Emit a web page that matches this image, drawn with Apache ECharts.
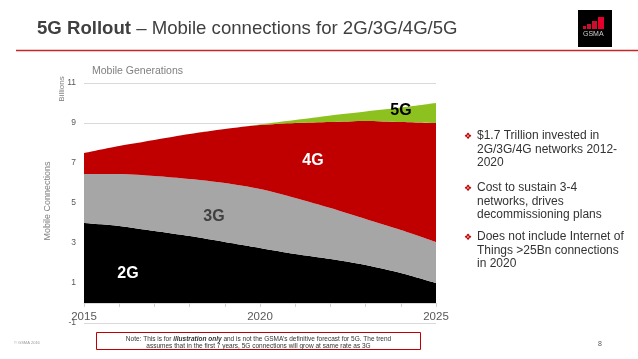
<!DOCTYPE html>
<html>
<head>
<meta charset="utf-8">
<script src="https://cdn.jsdelivr.net/npm/echarts@6/dist/echarts.min.js"></script>
<style>
html,body{margin:0;padding:0;background:#fff;}
#chart{width:638px;height:359px;}
</style>
</head>
<body>
<div id="chart"></div>
<script>
var years = ['2015','2016','2017','2018','2019','2020','2021','2022','2023','2024','2025'];
var g2 = [4.0, 3.85, 3.6, 3.35, 3.05, 2.75, 2.45, 2.2, 1.9, 1.5, 1.0];
var g3 = [2.45, 2.6, 2.75, 2.85, 2.95, 2.95, 2.8, 2.55, 2.3, 2.15, 2.05];
var g4 = [1.05, 1.4, 1.8, 2.25, 2.7, 3.2, 3.75, 4.3, 4.9, 5.4, 5.95];
var g5 = [0, 0, 0, 0, 0, 0.03, 0.15, 0.33, 0.48, 0.72, 1.0];
var yTicks = {min: -1, max: 11, interval: 2};
var xLabelYears = ['2015', '2020', '2025'];

var FONT = '"Liberation Sans", Arial, sans-serif';
var chart = echarts.init(document.getElementById('chart'), null, {renderer: 'canvas'});

function areaSeries(name, data, color) {
  return {
    name: name, type: 'line', stack: 'total', data: data,
    symbol: 'none', smooth: 0.25,
    lineStyle: {width: 0, color: color},
    areaStyle: {color: color, opacity: 1},
    itemStyle: {color: color},
    silent: true
  };
}

var bullets = [
  {y: 137, lines: ['$1.7 Trillion invested in', '2G/3G/4G networks 2012-', '2020']},
  {y: 189, lines: ['Cost to sustain 3-4', 'networks, drives', 'decommissioning plans']},
  {y: 238, lines: ['Does not include Internet of', 'Things >25Bn connections', 'in 2020']}
];
var graphics = [
  {type: 'text', left: 37, top: 19, style: {
    text: '{b|5G Rollout}{n| – Mobile connections for 2G/3G/4G/5G}',
    rich: {
      b: {fontFamily: FONT, fontSize: 18.6, fontWeight: 'bold', fill: '#404040'},
      n: {fontFamily: FONT, fontSize: 18.6, fill: '#404040'}
    }
  }},
  {type: 'line', shape: {x1: 16, y1: 50.5, x2: 638, y2: 50.5}, style: {stroke: '#c00000', lineWidth: 1.5, opacity: 0.85}},
  {type: 'rect', shape: {x: 578, y: 10, width: 34, height: 37}, style: {fill: '#000'}},
  {type: 'rect', shape: {x: 583, y: 26, width: 3, height: 3}, style: {fill: '#c8102e'}},
  {type: 'rect', shape: {x: 587, y: 24, width: 4, height: 5}, style: {fill: '#c8102e'}},
  {type: 'rect', shape: {x: 592, y: 21, width: 5, height: 8}, style: {fill: '#c8102e'}},
  {type: 'rect', shape: {x: 598, y: 17, width: 6, height: 12}, style: {fill: '#e4002b'}},
  {type: 'text', left: 583, top: 31, style: {text: 'GSMA', fontFamily: FONT, fontSize: 7, fill: '#d0d0d0'}},
  {type: 'text', left: 92, top: 66, style: {text: 'Mobile Generations', fontFamily: FONT, fontSize: 10.5, fill: '#7f7f7f'}},
  {type: 'text', x: 62, y: 89, rotation: Math.PI / 2, style: {text: 'Billions', fontFamily: FONT, fontSize: 8, fill: '#7f7f7f', align: 'center', verticalAlign: 'middle'}},
  {type: 'text', x: 48, y: 201, rotation: Math.PI / 2, style: {text: 'Mobile Connections', fontFamily: FONT, fontSize: 9, fill: '#7f7f7f', align: 'center', verticalAlign: 'middle'}},
  {type: 'text', x: 128, y: 274, z: 100, style: {text: '2G', fontFamily: FONT, fontSize: 16, fontWeight: 'bold', fill: '#fff', align: 'center', verticalAlign: 'middle'}},
  {type: 'text', x: 214, y: 217, z: 100, style: {text: '3G', fontFamily: FONT, fontSize: 16, fontWeight: 'bold', fill: '#404040', align: 'center', verticalAlign: 'middle'}},
  {type: 'text', x: 313, y: 161, z: 100, style: {text: '4G', fontFamily: FONT, fontSize: 16, fontWeight: 'bold', fill: '#fff', align: 'center', verticalAlign: 'middle'}},
  {type: 'text', x: 401, y: 111, z: 100, style: {text: '5G', fontFamily: FONT, fontSize: 16, fontWeight: 'bold', fill: '#000', align: 'center', verticalAlign: 'middle'}},
  {type: 'rect', shape: {x: 96.5, y: 332.5, width: 324, height: 17}, style: {fill: '#fff', stroke: '#c00000', lineWidth: 1}},
  {type: 'text', x: 258.5, y: 336, style: {
    text: '{n|Note: This is for }{bi|illustration only}{n| and is not the GSMA\u2019s definitive forecast for 5G. The trend}\n{n|assumes that in the first 7 years, 5G connections will grow at same rate as 3G}',
    align: 'center', verticalAlign: 'top', lineHeight: 7,
    rich: {
      n: {fontFamily: FONT, fontSize: 6.5, fill: '#333', lineHeight: 7},
      bi: {fontFamily: FONT, fontSize: 6.5, fill: '#333', fontWeight: 'bold', fontStyle: 'italic', lineHeight: 7}
    }
  }},
  {type: 'text', left: 14, top: 341, style: {text: '\u00a9 GSMA 2016', fontFamily: FONT, fontSize: 4, fill: '#999'}},
  {type: 'text', left: 598, top: 341, style: {text: '8', fontFamily: FONT, fontSize: 7, fill: '#595959'}}
];
bullets.forEach(function (b) {
  graphics.push({type: 'text', x: 468, y: b.y, style: {text: '\u2756', fontFamily: '"DejaVu Sans"', fontSize: 9, fill: '#c00000', align: 'center', verticalAlign: 'middle'}});
  b.lines.forEach(function (t, i) {
    graphics.push({type: 'text', left: 477, top: b.y - 7 + i * 13.3, style: {text: t, fontFamily: FONT, fontSize: 12, fill: '#333'}});
  });
});

chart.setOption({
  animation: false,
  grid: {left: 84, right: 202, top: 83, bottom: 36, containLabel: false},
  xAxis: {
    type: 'category', data: years, boundaryGap: false, position: 'bottom', offset: -20,
    axisLine: {show: true, onZero: false, lineStyle: {color: '#d9d9d9', width: 1}},
    axisTick: {show: true, length: 4, interval: 0, lineStyle: {color: '#d0d0d0'}},
    axisLabel: {
      interval: 0, margin: 8, fontFamily: FONT, fontSize: 11.5, color: '#595959',
      formatter: function (v) { return xLabelYears.indexOf(v) >= 0 ? v : ''; }
    },
    splitLine: {show: false}, z: 10
  },
  yAxis: {
    type: 'value', min: yTicks.min, max: yTicks.max, interval: yTicks.interval,
    axisLine: {show: false}, axisTick: {show: false},
    axisLabel: {fontFamily: FONT, fontSize: 8.5, color: '#595959', margin: 8},
    splitLine: {lineStyle: {color: '#d9d9d9', width: 1}}
  },
  series: [
    areaSeries('2G', g2, '#000000'),
    areaSeries('3G', g3, '#a6a6a6'),
    areaSeries('4G', g4, '#c00000'),
    areaSeries('5G', g5, '#8cc11f')
  ],
  graphic: graphics
});
</script>
</body>
</html>
